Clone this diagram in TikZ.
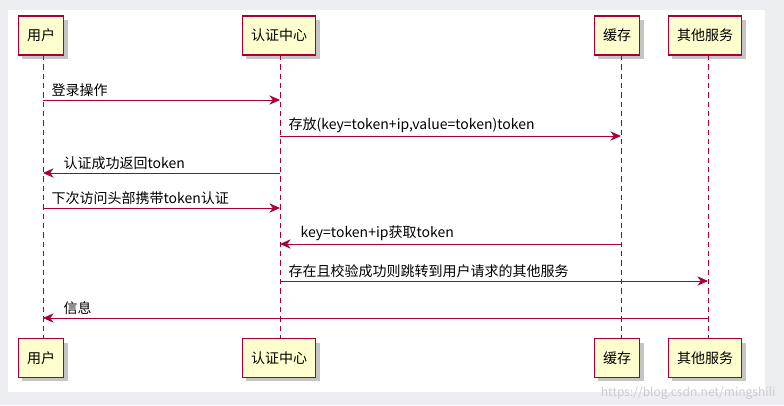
\documentclass[tikz,border=0pt]{standalone}
\usepackage{fontspec}
\setmainfont{Noto Sans CJK SC}
\usetikzlibrary{arrows.meta,shadows}
\definecolor{pbord}{HTML}{A80036}
\definecolor{pfill}{HTML}{FEFECE}
\definecolor{bgg}{HTML}{ECEEF2}
\tikzset{
 part/.style={draw=pbord,fill=pfill,line width=1.1pt,minimum height=29pt,inner xsep=6.5pt,font=\fontsize{10.5}{12}\selectfont,
   drop shadow={shadow xshift=3pt,shadow yshift=-3pt,fill=black!45}},
 life/.style={draw=pbord,dash pattern=on 4pt off 3pt,line width=0.6pt},
 msg/.style={draw=pbord,line width=0.7pt,-{Stealth[length=8pt,width=7pt]}},
 lbl/.style={font=\fontsize{10.5}{12}\selectfont,anchor=south west,inner sep=1pt}
}
\begin{document}
\begin{tikzpicture}[x=0.75pt,y=-0.75pt]
\useasboundingbox (0,0) rectangle (784,405);
\fill[bgg] (0,0) rectangle (784,405);
\fill[white] (8,10) rectangle (765,392);
\foreach \n/\t/\x in {u/用户/41,a/认证中心/279,c/缓存/617,o/其他服务/705}{
  \node[part] (\n t) at (\x,35.5) {\t};
  \node[part] (\n b) at (\x,358) {\t};
}
\foreach \n/\x in {u/43,a/280,c/621,o/708}{
  \draw[life] (\x,55) -- (\x,339);
}
\foreach \y/\f/\t/\s/\lx in {100/43/280/登录操作/50, 136/280/621/存放(key=token+ip{,}value=token)token/287, 173/280/43/认证成功返回token/62, 208/43/280/下次访问头部携带token认证/50, 244/621/280/key=token+ip获取token/299, 281/280/708/存在且校验成功则跳转到用户请求的其他服务/287, 318/708/43/信息/62}{
  \coordinate (s\y) at (\f,\y); \coordinate (e\y) at (\t,\y);
  \draw[msg] (s\y) -- (e\y);
  \node[lbl] at (\lx,\y-2) {\s};
}
\node[font=\fontsize{9}{10}\selectfont,text=white!80!black,anchor=south east] at (780,404) {https://blog.csdn.net/mingshili};
\end{tikzpicture}
\end{document}
